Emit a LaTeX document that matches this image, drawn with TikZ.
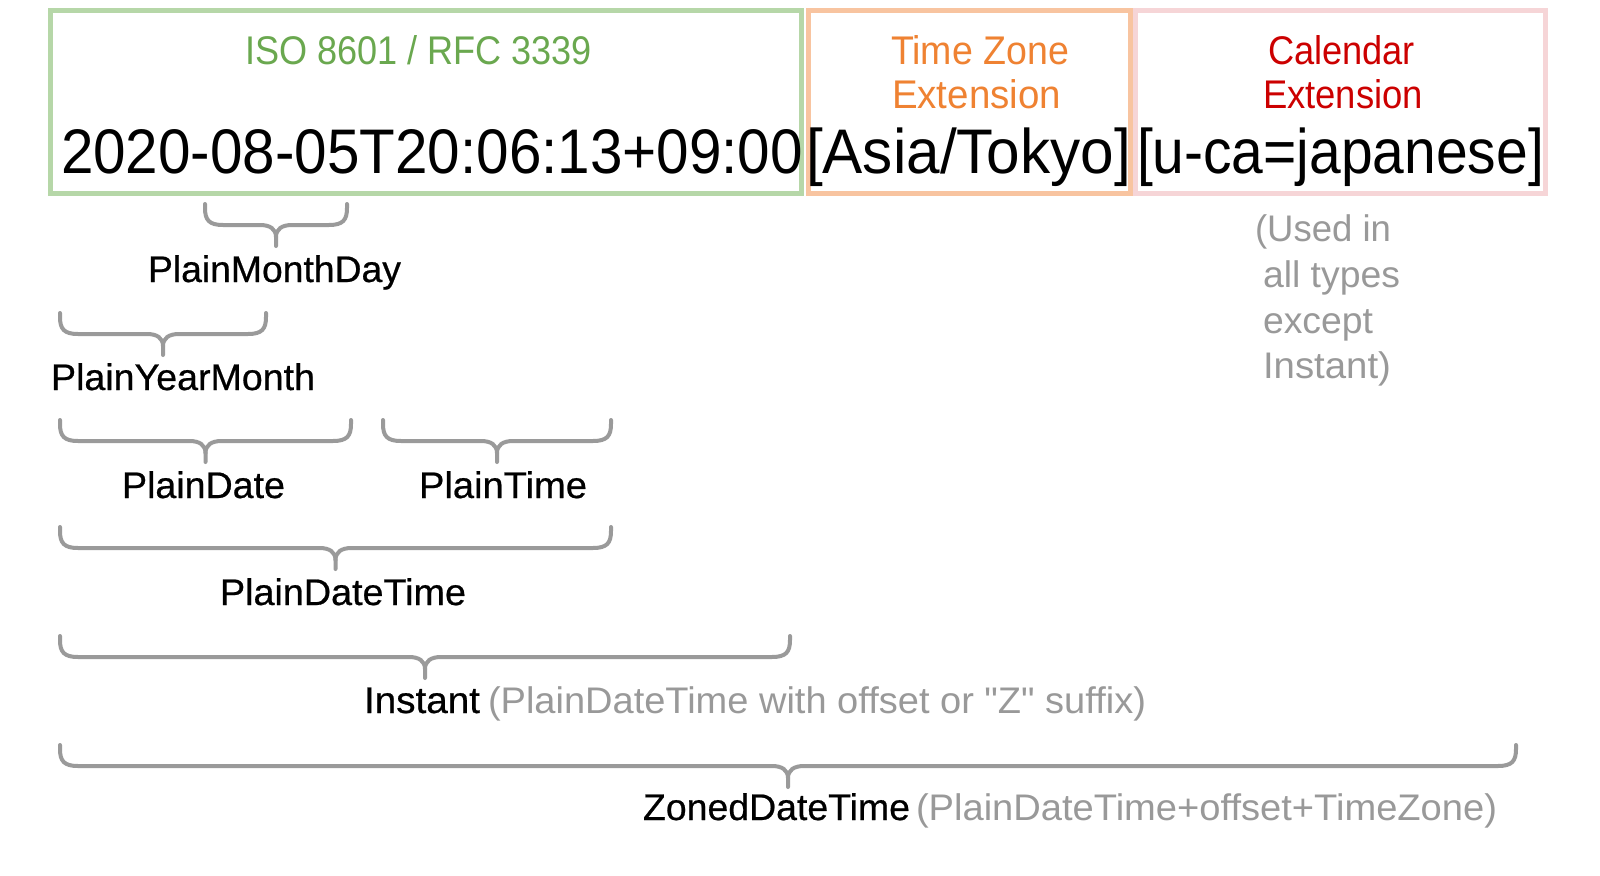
\documentclass[tikz,border=0pt]{standalone}
\usepackage{fontspec}
\setmainfont{Liberation Sans}
\newfontfamily\medfont{Liberation Sans}[FakeBold=0.6]
\usepackage{graphicx}
\definecolor{isogreen}{HTML}{6AA84F}
\definecolor{isoborder}{HTML}{B6D7A8}
\definecolor{tzorange}{HTML}{EF8232}
\definecolor{tzborder}{HTML}{F8C4A0}
\definecolor{calred}{HTML}{CC0000}
\definecolor{calborder}{HTML}{F6D5D7}
\definecolor{notegray}{HTML}{999999}
\definecolor{bracegray}{HTML}{9A9A9A}
\newcommand\fitw[2]{\resizebox{#1pt}{\height}{#2}}
\newcommand\tbrace[3]{%
  \pgfmathsetmacro\bc{(#1+#2)/2}%
  \draw[bracestyle] (#1,#3) -- (#1,#3+4) .. controls (#1,#3+16) and (#1+4,#3+21) .. (#1+18,#3+21)
     -- (\bc-16,#3+21) .. controls (\bc-6,#3+21) and (\bc,#3+25) .. (\bc,#3+33) -- (\bc,#3+42);
  \draw[bracestyle] (#2,#3) -- (#2,#3+4) .. controls (#2,#3+16) and (#2-4,#3+21) .. (#2-18,#3+21)
     -- (\bc+16,#3+21) .. controls (\bc+6,#3+21) and (\bc,#3+25) .. (\bc,#3+33);
}
\tikzset{
  lbl/.style={inner sep=0pt, outer sep=0pt, anchor=base west},
  header/.style={lbl, font=\fontsize{40}{48}\selectfont},
  bigtxt/.style={lbl, font=\fontsize{63}{72}\selectfont, text=black},
  typelbl/.style={lbl, font=\medfont\fontsize{37}{44}\selectfont, text=black},
  notelbl/.style={lbl, font=\fontsize{37}{44}\selectfont, text=notegray},
  boxline/.style={line width=5pt},
  bracestyle/.style={draw=bracegray, line width=4pt, line cap=round, line join=round},
}
\begin{document}
\begin{tikzpicture}[x=1pt,y=-1pt]
\useasboundingbox (0,0) rectangle (1600,875);
\fill[white] (0,0) rectangle (1600,875);
% boxes
\draw[boxline, draw=isoborder] (50.5,10.5) rectangle (801.5,193.5);
\draw[boxline, draw=tzborder] (808.5,10.5) rectangle (1130.5,193.5);
\draw[boxline, draw=calborder] (1135.5,10.5) rectangle (1545.5,193.5);
% headers
\node[header, text=isogreen] (iso) at (245,64.3) {\fitw{347}{ISO 8601 / RFC 3339}};
\node[header, text=tzorange] (tz1) at (891,64.3) {\fitw{178}{Time Zone}};
\node[header, text=tzorange] (tz2) at (892,108) {\fitw{169}{Extension}};
\node[header, text=calred] (cal1) at (1268,64.3) {\fitw{147}{Calendar}};
\node[header, text=calred] (cal2) at (1263,108) {\fitw{160}{Extension}};
% big string
\node[bigtxt] (dt) at (61,173.5) {\fitw{742}{2020-08-05T20:06:13+09:00}};
\node[bigtxt] (zone) at (806,173.5) {\fitw{325}{[Asia/Tokyo]}};
\node[bigtxt] (calx) at (1137,173.5) {\fitw{407}{[u-ca=japanese]}};
% braces
\tbrace{205}{347}{204}
\tbrace{60}{266}{313}
\tbrace{60}{351}{420}
\tbrace{383}{611}{420}
\tbrace{60}{611}{527}
\tbrace{60}{790}{636}
\tbrace{60}{1516}{745}
% type labels
\node[typelbl] (pmd) at (148,282) {\fitw{253}{PlainMonthDay}};
\node[typelbl] (pym) at (51,390) {\fitw{264}{PlainYearMonth}};
\node[typelbl] (pd) at (122,498) {\fitw{163}{PlainDate}};
\node[typelbl] (pt) at (419,498) {\fitw{168}{PlainTime}};
\node[typelbl] (pdt) at (220,605) {\fitw{246}{PlainDateTime}};
\node[typelbl] (inst) at (364,713) {\fitw{116}{Instant}};
\node[notelbl] (instnote) at (488,713) {\fitw{658}{(PlainDateTime with offset or \textquotedbl Z\textquotedbl\ suffix)}};
\node[typelbl] (zdt) at (643,820) {\fitw{267}{ZonedDateTime}};
\node[notelbl] (zdtnote) at (916,820) {\fitw{581}{(PlainDateTime+offset+TimeZone)}};
% calendar note
\node[notelbl] (n1) at (1255,241) {\fitw{136}{(Used in}};
\node[notelbl] (n2) at (1263,287) {\fitw{137}{all types}};
\node[notelbl] (n3) at (1263,333) {\fitw{110}{except}};
\node[notelbl] (n4) at (1263,378) {\fitw{128}{Instant)}};
\end{tikzpicture}
\end{document}
